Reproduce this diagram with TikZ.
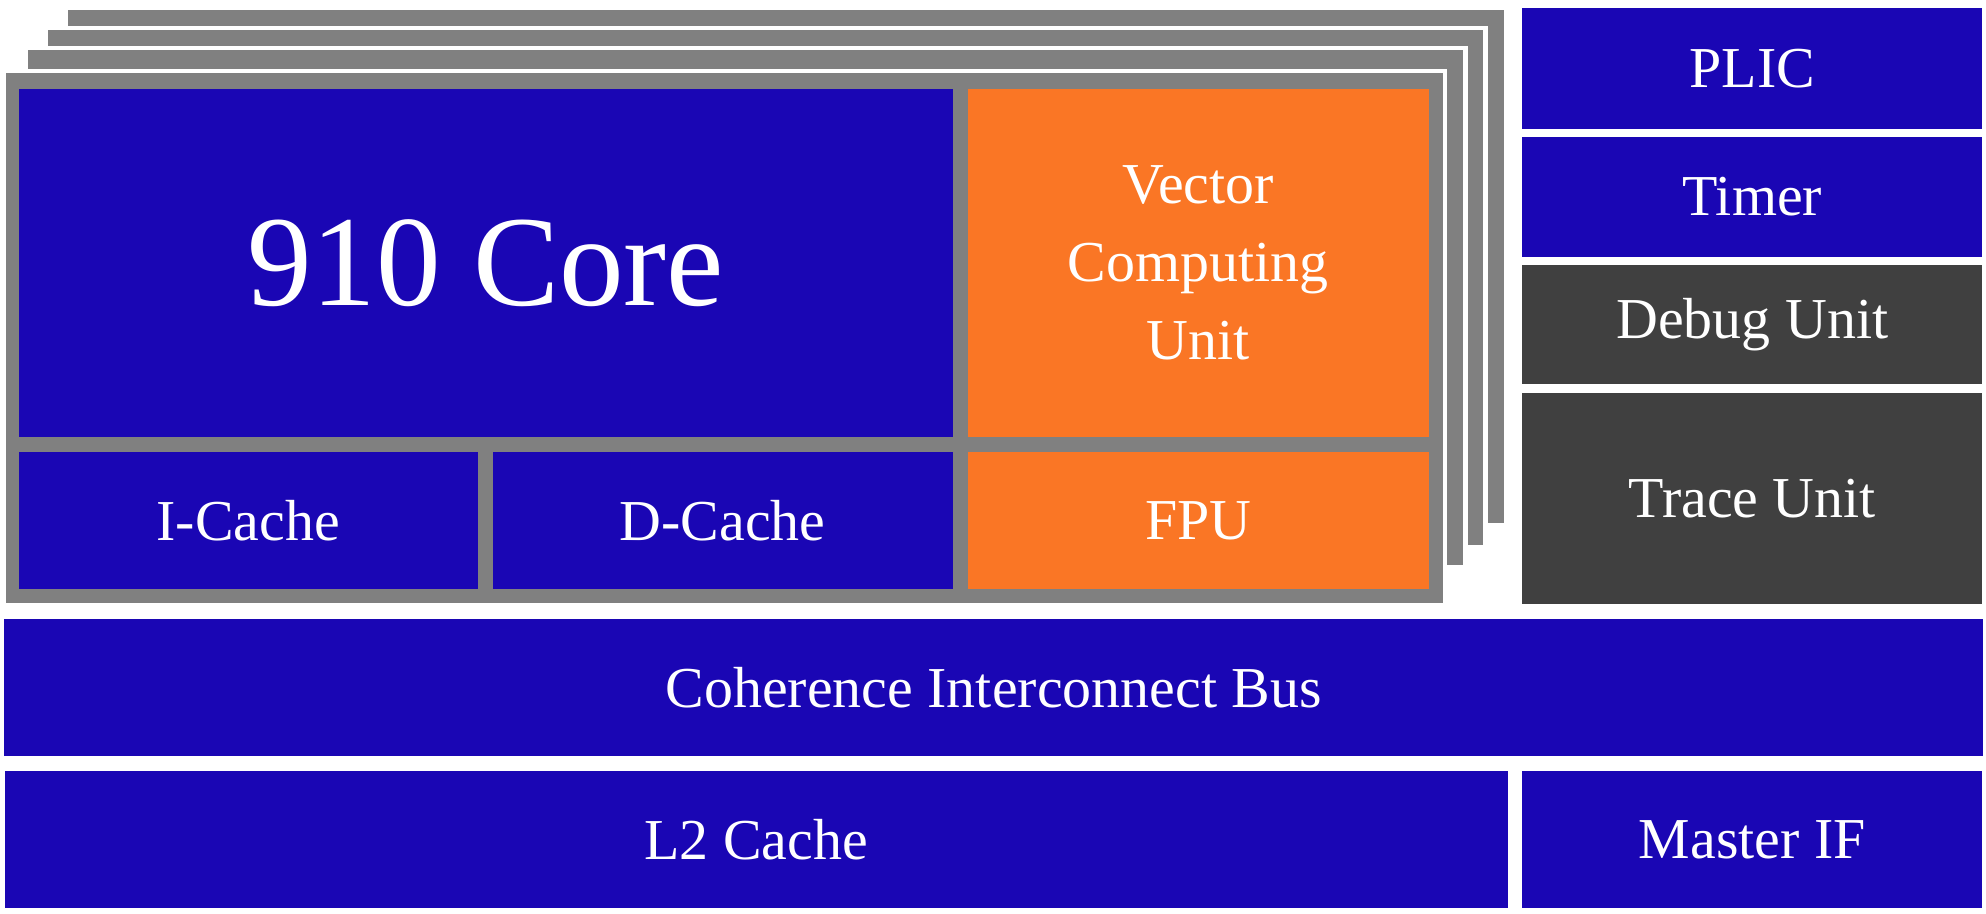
\documentclass[tikz,border=0pt]{standalone}
\usepackage{fontspec}
\setmainfont{Liberation Serif}
\definecolor{cblue}{HTML}{1A06B4}
\definecolor{corange}{HTML}{FA7625}
\definecolor{cgray}{HTML}{808080}
\definecolor{cdark}{HTML}{404040}
\begin{document}
\begin{tikzpicture}[x=0.01cm,y=-0.01cm,
  blk/.style={fill=#1,draw=none,inner sep=0pt,text=white,align=center,font=\fontsize{13}{17}\selectfont},
  layer/.style={fill=cgray,draw=white,line width=1pt}]
\useasboundingbox (0,0) rectangle (1568,721);
\fill[white] (0,0) rectangle (1568,721);
\draw[layer] (52,6) rectangle (1189,415);
\draw[layer] (36,22) rectangle (1173,432);
\draw[layer] (20,38) rectangle (1157,448);
\draw[layer] (3,56) rectangle (1141,478);
\node[blk=cblue,minimum width=7.37cm,minimum height=2.75cm,font=\fontsize{29}{34}\selectfont] (core) at (383.5,207.5) {910 Core};
\node[blk=corange,minimum width=3.64cm,minimum height=2.75cm,font=\fontsize{13}{17.5}\selectfont] (vec) at (946,207.5) {Vector\\Computing\\Unit};
\node[blk=cblue,minimum width=3.62cm,minimum height=1.08cm] (icache) at (196,411) {I-Cache};
\node[blk=cblue,minimum width=3.63cm,minimum height=1.08cm] (dcache) at (570.5,411) {D-Cache};
\node[blk=corange,minimum width=3.64cm,minimum height=1.08cm] (fpu) at (946,411) {FPU};
\node[blk=cblue,minimum width=3.63cm,minimum height=0.96cm] (plic) at (1383.5,54) {PLIC};
\node[blk=cblue,minimum width=3.63cm,minimum height=0.95cm] (timer) at (1383.5,155.5) {Timer};
\node[blk=cdark,minimum width=3.63cm,minimum height=0.94cm] (debug) at (1383.5,256) {Debug Unit};
\node[blk=cdark,minimum width=3.63cm,minimum height=1.67cm] (trace) at (1383.5,393.5) {Trace Unit};
\node[blk=cblue,minimum width=15.61cm,minimum height=1.08cm] (bus) at (784.5,543) {Coherence Interconnect Bus};
\node[blk=cblue,minimum width=11.86cm,minimum height=1.08cm] (l2) at (597,663) {L2 Cache};
\node[blk=cblue,minimum width=3.63cm,minimum height=1.08cm] (master) at (1383.5,663) {Master IF};
\end{tikzpicture}
\end{document}
